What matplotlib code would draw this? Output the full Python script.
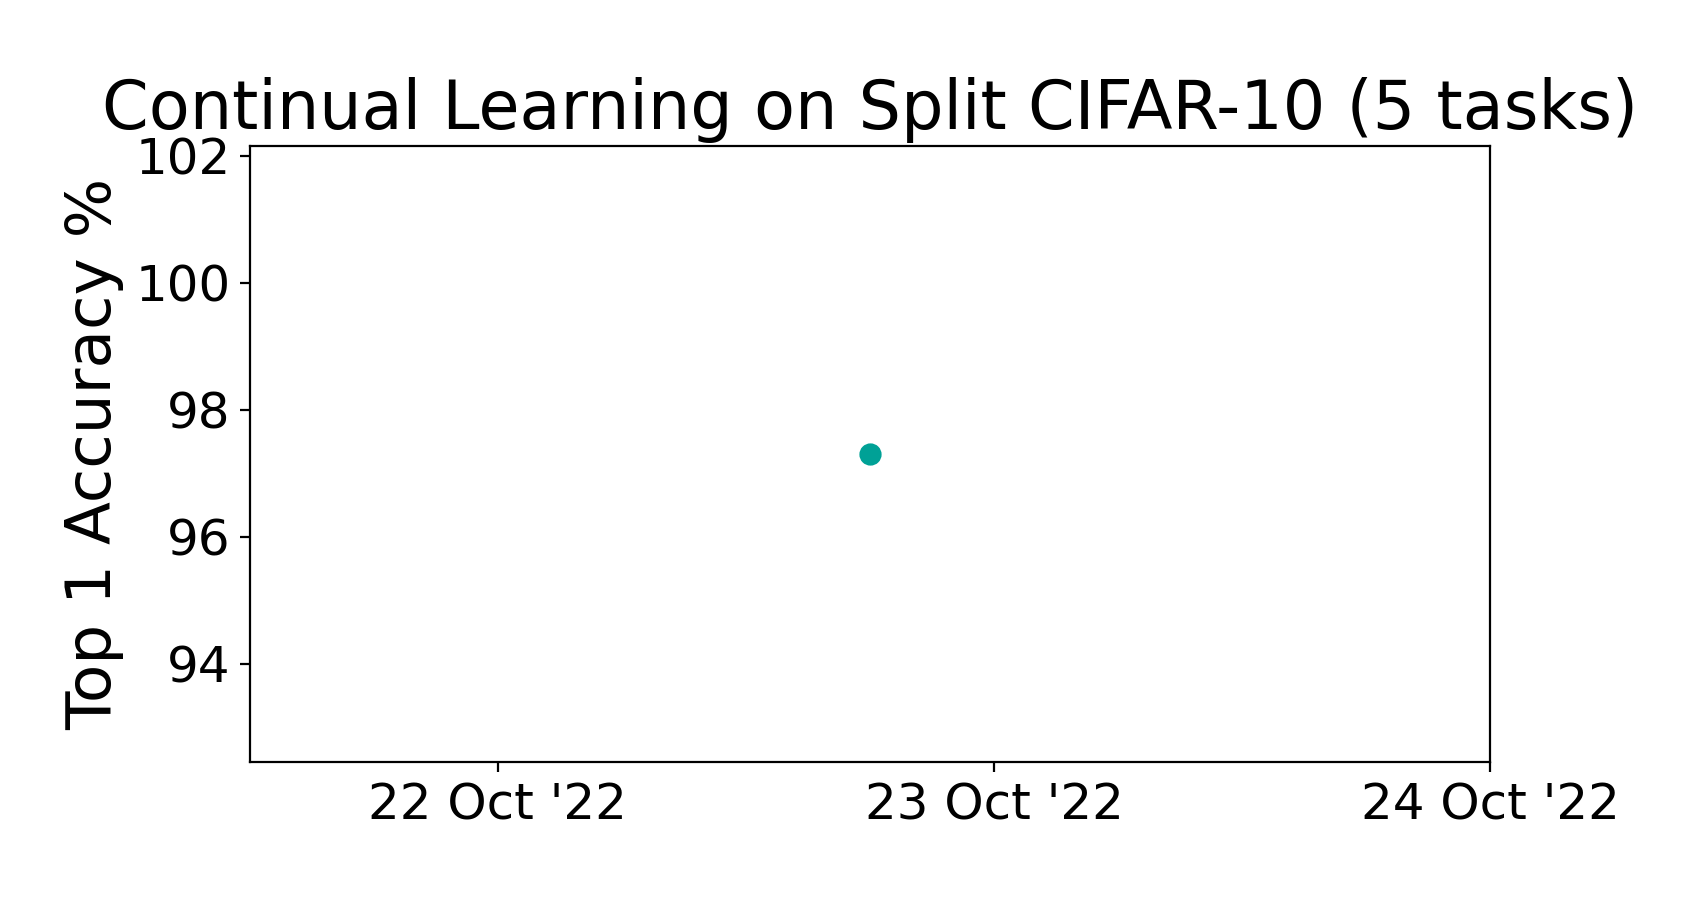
import numpy as np
import matplotlib
matplotlib.use('Agg')
import matplotlib.pyplot as plt
import matplotlib.dates as mdates
from datetime import datetime

# data
dates = [datetime(2022, 10, 22, 18, 0)]
accuracy = [97.3]
tick_dates = [datetime(2022, 10, 22), datetime(2022, 10, 23), datetime(2022, 10, 24)]

fig = plt.figure(figsize=(8.5, 4.5), dpi=200)
ax = fig.add_axes([0.147, 0.1533, 0.7295, 0.6845])

ax.plot(dates, accuracy, 'o', color='#00a196', markersize=7)

ax.set_xlim(datetime(2022, 10, 21, 12, 0), datetime(2022, 10, 24))
ax.set_ylim(92.45, 102.15)
ax.set_xticks(tick_dates)
ax.xaxis.set_major_formatter(mdates.DateFormatter("%d %b '%y"))
ax.set_yticks([94, 96, 98, 100, 102])

ax.tick_params(labelsize=18)
ax.set_ylabel('Top 1 Accuracy %', fontsize=22.6)
ax.set_title('Continual Learning on Split CIFAR-10 (5 tasks)', fontsize=24.1)

fig.savefig('out.png', dpi=200)
